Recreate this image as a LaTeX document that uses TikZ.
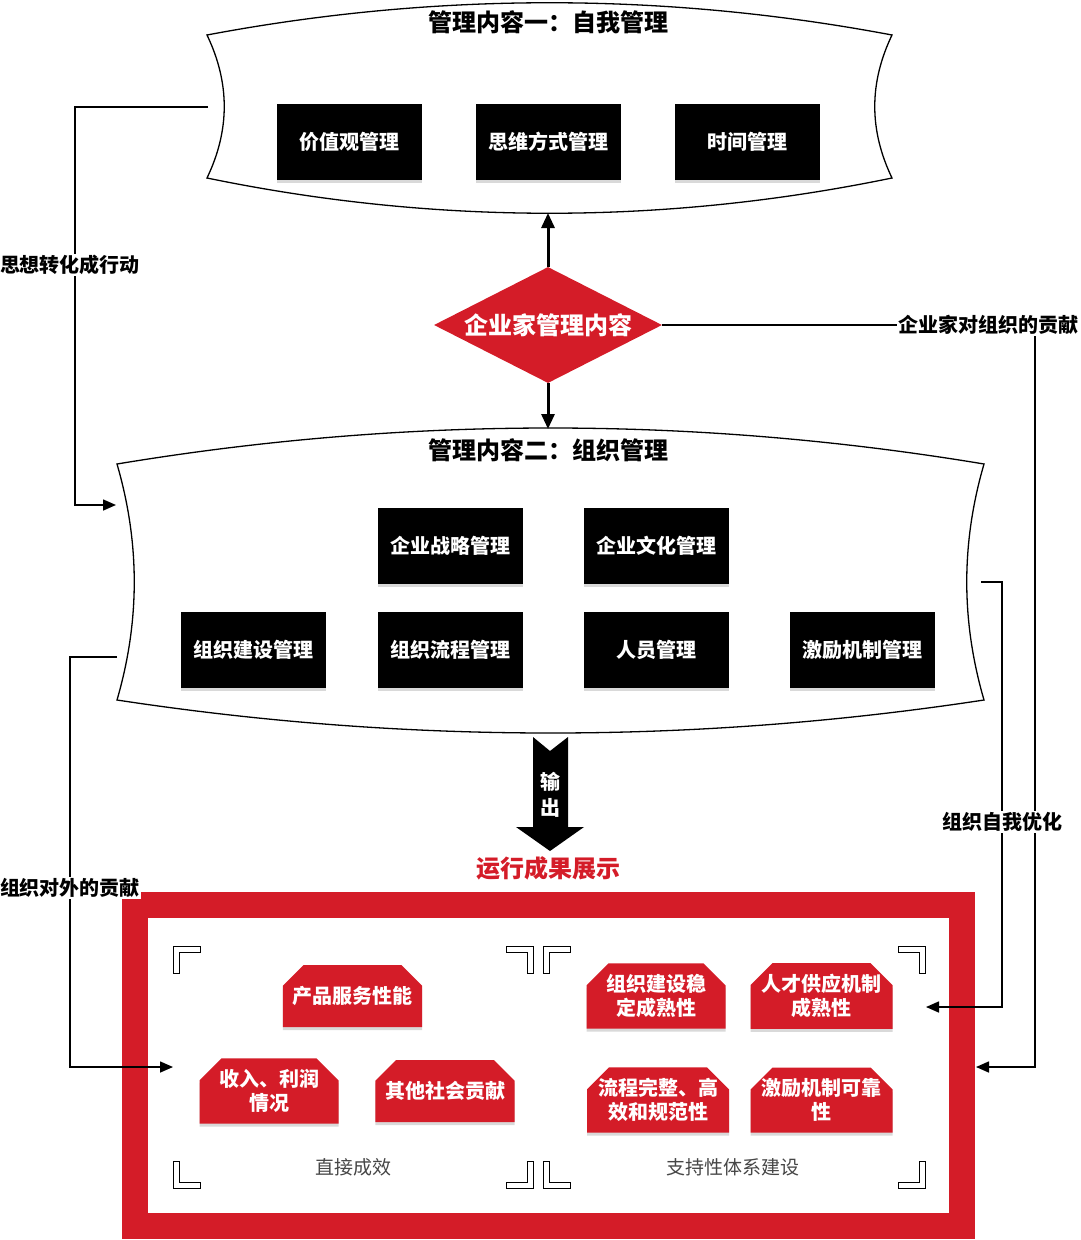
\documentclass[tikz,border=0pt]{standalone}
\usepackage{fontspec}
\setmainfont{Noto Sans CJK SC}
\usetikzlibrary{shapes.geometric, shapes.misc, arrows.meta}
\definecolor{RojoMarco}{RGB}{212,28,40}
\definecolor{GrisTexto}{RGB}{70,70,70}
\colorlet{SombraCaja}{black!15}
\tikzset{
    borde banner/.style={line width=1.3pt, fill=white},
    caja negra/.style={
        rectangle, fill=black, text=white, inner sep=0pt,
        minimum width=145pt, minimum height=76pt,
        font=\bfseries\fontsize{20}{24}\selectfont,
        preaction={fill=SombraCaja, transform canvas={yshift=-3pt}}
    },
    etiqueta roja/.style={
        chamfered rectangle, chamfered rectangle corners={north west, north east},
        chamfered rectangle xsep=11pt, chamfered rectangle ysep=11pt,
        fill=RojoMarco, text=white, inner sep=0pt, align=center,
        minimum width=139pt, minimum height=62pt,
        font=\bfseries\fontsize{20}{24}\selectfont,
        preaction={fill=SombraCaja, transform canvas={yshift=-3pt}}
    },
    etiqueta linea/.style={fill=white, inner sep=1pt, font=\bfseries\fontsize{20}{22}\selectfont},
    conector/.style={line width=1.6pt, -{Triangle[length=13pt, width=11pt]}},
    flecha gruesa/.style={line width=3pt, -{Triangle[length=15pt, width=13pt]}},
    esquina/.pic={
        \draw[line width=0.9pt, fill=white] (0,27) -- (0,0) -- (27,0) -- (27,6) -- (6,6) -- (6,27) -- cycle;
    }
}

\begin{document}
\begin{tikzpicture}[x=1pt, y=-1pt]

\useasboundingbox (0,0) rectangle (1080,1240);

% Banner superior: autogestion.
\coordinate (S-no) at (207,35);
\coordinate (S-ne) at (892,35);
\coordinate (S-so) at (207,178);
\coordinate (S-se) at (892,178);
\coordinate (S-sur) at (548,213);
\coordinate (S-izq) at (208,107);
\draw[borde banner] (S-no) .. controls (435,-8) and (664,-8) .. (S-ne)
    .. controls (869,83) and (869,130) .. (S-se)
    .. controls (664,225) and (435,225) .. (S-so)
    .. controls (230,130) and (230,83) .. (S-no) -- cycle;

\node[font=\bfseries\fontsize{24}{26}\selectfont] (titulo1) at (548,22) {管理内容一：自我管理};
\node[caja negra] (valores) at (349.5,142) {价值观管理};
\node[caja negra] (pensamiento) at (548.5,142) {思维方式管理};
\node[caja negra] (tiempo) at (747.5,142) {时间管理};

% Banner inferior: gestion de la organizacion.
\coordinate (I-no) at (117,464);
\coordinate (I-ne) at (984,464);
\coordinate (I-so) at (117,700);
\coordinate (I-se) at (984,700);
\coordinate (I-norte) at (548,429);
\coordinate (I-entrada) at (116,505);
\coordinate (I-izq) at (117,657);
\coordinate (I-der) at (981,582);
\draw[borde banner] (I-no) .. controls (406,416) and (695,416) .. (I-ne)
    .. controls (961,543) and (961,621) .. (I-se)
    .. controls (695,744) and (406,744) .. (I-so)
    .. controls (140,621) and (140,543) .. (I-no) -- cycle;

\node[fill=white, inner sep=2pt, font=\bfseries\fontsize{24}{26}\selectfont] (titulo2) at (548,450) {管理内容二：组织管理};
\node[caja negra] (estrategia) at (450,545.5) {企业战略管理};
\node[caja negra] (cultura) at (656,545.5) {企业文化管理};
\node[caja negra] (construccion) at (253.5,649.5) {组织建设管理};
\node[caja negra] (procesos) at (450,649.5) {组织流程管理};
\node[caja negra] (personal) at (656,649.5) {人员管理};
\node[caja negra] (incentivos) at (862,649.5) {激励机制管理};

% Rombo central y flechas gruesas.
\node[diamond, aspect=2, fill=RojoMarco, text=white, inner sep=0pt,
      minimum width=228pt, minimum height=116pt,
      font=\bfseries\fontsize{24}{26}\selectfont] (centro) at (548,325) {企业家管理内容};
\draw[flecha gruesa] (centro.north) -- (S-sur);
\draw[flecha gruesa] (centro.south) -- (I-norte);

% Flecha de salida.
\fill[black] (533,737) -- (550,751) -- (568,737) -- (568,827) -- (584,827)
    -- (550,851) -- (516,827) -- (533,827) -- cycle;
\node[text=white, align=center, font=\bfseries\fontsize{20}{26}\selectfont] (salida) at (550,795) {输\\出};
\node[text=RojoMarco, font=\bfseries\fontsize{24}{26}\selectfont] (resultados) at (548,868) {运行成果展示};

% Marco rojo de resultados.
\draw[RojoMarco, line width=26pt] (135,905) rectangle (962,1226);
\coordinate (R-izq) at (173,1067);
\coordinate (R-der1) at (926,1007);
\coordinate (R-der2) at (976,1067);

\node[etiqueta roja] (producto) at (352.5,996) {产品服务性能};
\node[etiqueta roja] (ingresos) at (269,1091) {收入、利润\\情况};
\node[etiqueta roja] (social) at (445,1091) {其他社会贡献};
\node[etiqueta roja] (estabilidad) at (656,996) {组织建设稳\\定成熟性};
\node[etiqueta roja] (talento) at (821.5,996) {人才供应机制\\成熟性};
\node[etiqueta roja] (flujo) at (658,1100) {流程完整、高\\效和规范性};
\node[etiqueta roja] (fiabilidad) at (821.5,1100) {激励机制可靠\\性};

\node[text=GrisTexto, font=\fontsize{19}{22}\selectfont] (directo) at (353,1167) {直接成效};
\node[text=GrisTexto, font=\fontsize{19}{22}\selectfont] (soporte) at (733,1167) {支持性体系建设};

% Esquinas de los dos grupos.
\pic at (173,946) {esquina};
\pic[xscale=-1] at (533,946) {esquina};
\pic[yscale=-1] at (173,1188) {esquina};
\pic[xscale=-1, yscale=-1] at (533,1188) {esquina};
\pic at (543,946) {esquina};
\pic[xscale=-1] at (925,946) {esquina};
\pic[yscale=-1] at (543,1188) {esquina};
\pic[xscale=-1, yscale=-1] at (925,1188) {esquina};

% Conectores laterales.
\draw[conector] (S-izq) -- ++(-133,0) |- (I-entrada);
\draw[conector] (I-izq) -- ++(-47,0) |- (R-izq);
\draw[conector] (I-der) -- ++(21,0) |- (R-der1);
\draw[conector] (centro.east) -- ++(373,0) |- (R-der2);

\node[etiqueta linea] (pensar) at (70,265) {思想转化成行动};
\node[etiqueta linea] (externo) at (70,888) {组织对外的贡献};
\node[etiqueta linea] (optimizar) at (1002,822) {组织自我优化};
\node[etiqueta linea] (aporte) at (988,325) {企业家对组织的贡献};

\end{tikzpicture}
\end{document}
